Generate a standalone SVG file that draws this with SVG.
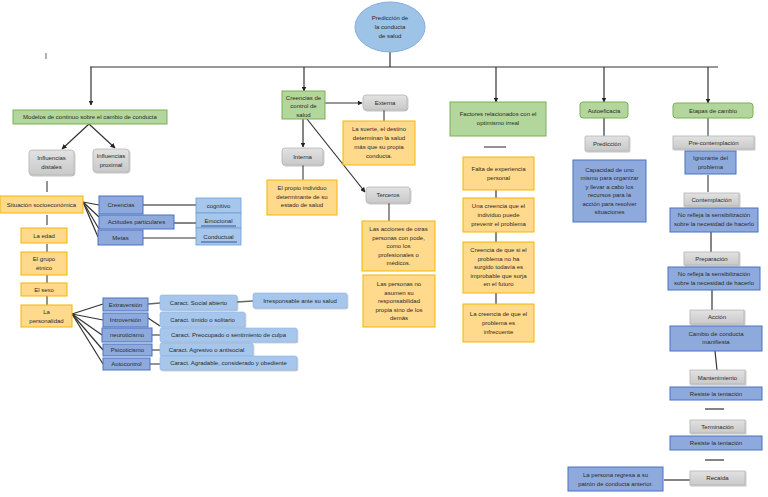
<svg xmlns="http://www.w3.org/2000/svg" width="768" height="497" viewBox="0 0 768 497">
<style>
text{font-family:"Liberation Sans",Arial,sans-serif;font-size:6px;fill:#2a2a2a;text-anchor:middle}
.g{fill:#b3d69c;stroke:#78b152;stroke-width:1}
.y{fill:#ffd98c;stroke:#f5b400;stroke-width:1}
.gr{fill:url(#gg);stroke:#b5b5b5;stroke-width:0.8;filter:url(#sh)}
.b{fill:#8eaadd;stroke:#4a70c2;stroke-width:1}
.lb{fill:#a7c6ec;stroke:#6c9fd8;stroke-width:0.8}
.lbs{fill:#a7c6ec;stroke:#8fb4e2;stroke-width:0.6;filter:url(#sh)}
.c{stroke:#333;stroke-width:1.2;fill:none}
.cg{stroke:#666;stroke-width:1.4;fill:none}
.a{stroke:#333;stroke-width:1.2;fill:none;marker-end:url(#ar)}
.ul{stroke:#2f5597;stroke-width:1}
</style>
<defs>
<linearGradient id="gg" x1="0" y1="0" x2="0" y2="1"><stop offset="0" stop-color="#e2e2e2"/><stop offset="1" stop-color="#c9c9c9"/></linearGradient>
<filter id="sh" x="-10%" y="-20%" width="130%" height="160%"><feDropShadow dx="0.8" dy="1" stdDeviation="0.6" flood-color="#000" flood-opacity="0.3"/></filter>
<marker id="ar" viewBox="0 0 10 10" refX="9" refY="5" markerWidth="5" markerHeight="5" markerUnits="userSpaceOnUse" orient="auto"><path d="M0,0L10,5L0,10z" fill="#222"/></marker>
</defs>

<g id="connectors">
<line class="cg" x1="46" y1="53" x2="46" y2="59" style="stroke-width:1"/>
<line class="c" x1="390" y1="52" x2="390" y2="67"/>
<line class="c" x1="90" y1="67" x2="718" y2="67"/>
<line class="a" x1="91" y1="67" x2="91" y2="105"/>
<line class="a" x1="304" y1="67" x2="304" y2="91"/>
<line class="a" x1="496" y1="67" x2="496" y2="102"/>
<line class="a" x1="604" y1="67" x2="604" y2="102"/>
<line class="a" x1="708" y1="67" x2="708" y2="103"/>
<line class="a" x1="89" y1="124" x2="62" y2="149"/>
<line class="a" x1="89" y1="124" x2="115" y2="148"/>
<line class="cg" x1="47" y1="181" x2="47" y2="192"/>
<line class="cg" x1="47" y1="215" x2="47" y2="225"/>
<line class="cg" x1="47" y1="244" x2="47" y2="252"/>
<line class="cg" x1="47" y1="275" x2="47" y2="283"/>
<line class="cg" x1="47" y1="296" x2="47" y2="305"/>
<line class="c" x1="83" y1="202" x2="99" y2="205"/>
<line class="c" x1="83" y1="202" x2="99" y2="217"/>
<line class="c" x1="83" y1="202" x2="99" y2="229"/>
<line class="c" x1="83" y1="202" x2="98" y2="237"/>
<line class="cg" x1="143" y1="205" x2="196" y2="205"/>
<line class="c" x1="174" y1="223" x2="196" y2="223"/>
<line class="c" x1="143" y1="238" x2="196" y2="238"/>
<line class="c" x1="72" y1="314" x2="103" y2="304"/>
<line class="c" x1="72" y1="314" x2="103" y2="320"/>
<line class="c" x1="72" y1="314" x2="102" y2="335"/>
<line class="c" x1="72" y1="314" x2="103" y2="350"/>
<line class="c" x1="72" y1="314" x2="103" y2="364"/>
<line class="cg" x1="148" y1="304" x2="160" y2="303"/>
<line class="c" x1="148" y1="318" x2="160" y2="326"/>
<line class="cg" x1="152" y1="335" x2="160" y2="335"/>
<line class="cg" x1="152" y1="350" x2="160" y2="350"/>
<line class="cg" x1="150" y1="364" x2="160" y2="364"/>
<line class="cg" x1="237" y1="302" x2="253" y2="301"/>
<line class="a" x1="325" y1="103" x2="362" y2="103"/>
<line class="cg" x1="384" y1="110" x2="384" y2="121"/>
<line class="a" x1="303" y1="119" x2="303" y2="147"/>
<line class="cg" x1="303" y1="165" x2="303" y2="180"/>
<line class="a" x1="307" y1="119" x2="365" y2="192"/>
<line class="cg" x1="389" y1="203" x2="389" y2="221"/>
<line class="cg" x1="484" y1="147" x2="506" y2="147" style="stroke:#777;stroke-width:1.6"/>
<line class="c" x1="496" y1="190" x2="496" y2="198"/>
<line class="c" x1="496" y1="232" x2="496" y2="242"/>
<line class="c" x1="496" y1="293" x2="496" y2="304"/>
<line class="c" x1="604" y1="118" x2="604" y2="136"/>
<line class="cg" x1="708" y1="118" x2="708" y2="136"/>
<line class="cg" x1="708" y1="175" x2="708" y2="192"/>
<line class="c" x1="711" y1="232" x2="711" y2="252"/>
<line class="c" x1="712" y1="290" x2="712" y2="310"/>
<line class="c" x1="715" y1="351" x2="717" y2="370"/>
<line class="c" x1="705" y1="409" x2="724" y2="409"/>
<line class="c" x1="705" y1="460" x2="724" y2="460"/>
<line class="c" x1="664" y1="480" x2="690" y2="480"/>
</g>

<g id="root"><ellipse cx="390" cy="27" rx="35" ry="25" fill="#9dc3e6" stroke="#86acd9"/><text x="390" y="20">Predicción de</text><text x="390" y="29">la conducta</text><text x="390" y="38">de salud</text></g>

<g id="modelos"><rect class="g" x="13" y="110" width="154" height="14"/><text x="90" y="119">Modelos de continuo sobre el cambio de conducta</text></g>
<g id="distales"><rect class="gr" x="29" y="150" width="45" height="25" rx="3"/><text x="51.5" y="160">Influencias</text><text x="51.5" y="169">distales</text></g>
<g id="proximal"><rect class="gr" x="93" y="149" width="36" height="23" rx="3"/><text x="111" y="158">Influencias</text><text x="111" y="167">proximal</text></g>
<g id="situacion"><rect class="y" x="0" y="196" width="83" height="17"/><text x="41.5" y="206.5">Situación socioeconómica</text></g>
<g id="edad"><rect class="y" x="21" y="228" width="46" height="15"/><text x="44" y="237.5">La edad</text></g>
<g id="etnico"><rect class="y" x="21" y="252" width="46" height="23"/><text x="44" y="261">El grupo</text><text x="44" y="270">étnico</text></g>
<g id="sexo"><rect class="y" x="21" y="283" width="46" height="13"/><text x="44" y="291.5">El sexo</text></g>
<g id="personalidad"><rect class="y" x="21" y="305" width="51" height="22"/><text x="46.5" y="314">La</text><text x="46.5" y="323">personalidad</text></g>

<g id="creencias"><rect class="b" x="99" y="196" width="44" height="18"/><text x="121" y="207">Creencias</text></g>
<g id="actitudes"><rect class="b" x="99" y="215" width="75" height="14"/><text x="136.5" y="224">Actitudes particulares</text></g>
<g id="metas"><rect class="b" x="98" y="230" width="45" height="15"/><text x="120.5" y="240">Metas</text></g>

<g id="cognitivo"><rect class="lb" x="196" y="198" width="45" height="15"/><text x="218.5" y="207.5">cognitivo</text></g>
<g id="emocional"><rect class="lb" x="196" y="213" width="45" height="15"/><text x="218.5" y="222.5">Emocional</text><line class="ul" x1="201" y1="226" x2="236" y2="226"/></g>
<g id="conductual"><rect class="lb" x="196" y="228" width="45" height="17"/><text x="218.5" y="238.5">Conductual</text><line class="ul" x1="201" y1="242" x2="237" y2="242"/></g>

<g id="extraversion"><rect class="b" x="103" y="298" width="45" height="13"/><text x="125.5" y="306.5">Extraversión</text></g>
<g id="introversion"><rect class="b" x="103" y="313" width="45" height="14"/><text x="125.5" y="322">Introversión</text></g>
<g id="neuroticismo"><rect class="b" x="102" y="328" width="50" height="14"/><text x="127" y="336.5">neuroticismo</text></g>
<g id="psicoticismo"><rect class="b" x="103" y="344" width="49" height="12"/><text x="127.5" y="352">Psicoticismo</text></g>
<g id="autocontrol"><rect class="b" x="103" y="358" width="47" height="12"/><text x="126.5" y="366">Autocontrol</text></g>

<g id="social"><rect class="lbs" x="160" y="295" width="77" height="15" rx="2"/><text x="198.5" y="304.5">Caract. Social abierto</text></g>
<g id="irresponsable"><rect class="lbs" x="253" y="293" width="94" height="15" rx="2"/><text x="300" y="302.5">Irresponsable ante su salud</text></g>
<g id="timido"><rect class="lbs" x="160" y="312" width="85" height="15" rx="2"/><text x="202.5" y="321.5">Caract. tímido o solitario</text></g>
<g id="preocupado"><rect class="lbs" x="160" y="328" width="137" height="14" rx="2"/><text x="228.5" y="337">Caract. Preocupado o sentimiento de culpa</text></g>
<g id="agresivo"><rect class="lbs" x="160" y="343" width="93" height="13" rx="2"/><text x="206.5" y="351.5">Caract. Agresivo o antisocial</text></g>
<g id="agradable"><rect class="lbs" x="160" y="356" width="137" height="14" rx="2"/><text x="228.5" y="365">Caract. Agradable, considerado y obediente</text></g>

<g id="control"><rect class="g" x="282" y="91" width="43" height="28"/><text x="303.5" y="99.5">Creencias de</text><text x="303.5" y="108">control de</text><text x="303.5" y="116.5">salud</text></g>
<g id="externa"><rect class="gr" x="363" y="95" width="44" height="15" rx="3"/><text x="385" y="104.5">Externa</text></g>
<g id="suerte"><rect class="y" x="343" y="121" width="72" height="44"/><text x="379" y="131">La suerte, el destino</text><text x="379" y="140">determinan la salud</text><text x="379" y="149">más que su propia</text><text x="379" y="158">conducta.</text></g>
<g id="interna"><rect class="gr" x="282" y="148" width="41" height="17" rx="3"/><text x="302.5" y="158.5">Interna</text></g>
<g id="propio"><rect class="y" x="267" y="180" width="70" height="35"/><text x="302" y="190">El propio individuo</text><text x="302" y="198.5">determinante de su</text><text x="302" y="207">estado de salud</text></g>
<g id="terceros"><rect class="gr" x="366" y="187" width="44" height="16" rx="3"/><text x="388" y="197">Terceros</text></g>
<g id="acciones"><rect class="y" x="362" y="221" width="73" height="50"/><text x="398.5" y="231">Las acciones de otras</text><text x="398.5" y="239.5">personas con pode,</text><text x="398.5" y="248">como los</text><text x="398.5" y="256.5">profesionales o</text><text x="398.5" y="265">médicos.</text></g>
<g id="asumen"><rect class="y" x="363" y="275" width="72" height="52"/><text x="399" y="286">Las personas no</text><text x="399" y="294.5">asumen su</text><text x="399" y="303">responsabilidad</text><text x="399" y="311.5">propia sino de los</text><text x="399" y="320">demás</text></g>

<g id="factores"><rect class="g" x="450" y="102" width="96" height="34"/><text x="498" y="116">Factores relacionados con el</text><text x="498" y="125">optimismo irreal</text></g>
<g id="falta"><rect class="y" x="463" y="157" width="71" height="33"/><text x="498.5" y="171">Falta de experiencia</text><text x="498.5" y="180">personal</text></g>
<g id="prevenir"><rect class="y" x="463" y="198" width="71" height="34"/><text x="498.5" y="208">Una creencia que el</text><text x="498.5" y="217">individuo puede</text><text x="498.5" y="226">prevenir el problema</text></g>
<g id="surgido"><rect class="y" x="463" y="242" width="71" height="51"/><text x="498.5" y="252">Creencia de que si el</text><text x="498.5" y="260.5">problema no ha</text><text x="498.5" y="269">surgido todavía es</text><text x="498.5" y="277.5">improbable que surja</text><text x="498.5" y="286">en el futuro</text></g>
<g id="infrecuente"><rect class="y" x="463" y="304" width="71" height="38"/><text x="498.5" y="316">La creencia de que el</text><text x="498.5" y="325">problema es</text><text x="498.5" y="334">infrecuente</text></g>

<g id="autoeficacia"><rect class="g" x="580" y="102" width="48" height="16" rx="3"/><text x="604" y="112.5">Autoeficacia</text></g>
<g id="prediccion"><rect class="gr" x="585" y="136" width="44" height="15" rx="1"/><text x="607" y="145.5">Predicción</text></g>
<g id="capacidad"><rect class="b" x="573" y="160" width="73" height="62"/><text x="609.5" y="171.5">Capacidad de uno</text><text x="609.5" y="180">mismo para organizar</text><text x="609.5" y="188.5">y llevar a cabo los</text><text x="609.5" y="197">recursos para la</text><text x="609.5" y="205.5">acción para resolver</text><text x="609.5" y="214">situaciones</text></g>

<g id="etapas"><rect class="g" x="673" y="103" width="80" height="15" rx="3"/><text x="713" y="112.5">Etapas de cambio</text></g>
<g id="precontemplacion"><rect class="gr" x="673" y="136" width="81" height="13"/><text x="713.5" y="144.5">Pre-contemplación</text></g>
<g id="ignorante"><rect class="b" x="685" y="151" width="51" height="23"/><text x="710.5" y="160">Ignorante del</text><text x="710.5" y="168.5">problema</text></g>
<g id="contemplacion"><rect class="gr" x="684" y="193" width="55" height="13"/><text x="711.5" y="201.5">Contemplación</text></g>
<g id="norefleja1"><rect class="b" x="670" y="208" width="88" height="24"/><text x="714" y="217">No refleja la sensibilización</text><text x="714" y="225.5">sobre la necesidad de hacerlo</text></g>
<g id="preparacion"><rect class="gr" x="684" y="252" width="55" height="13"/><text x="711.5" y="260.5">Preparación</text></g>
<g id="norefleja2"><rect class="b" x="668" y="267" width="92" height="23"/><text x="714" y="276">No refleja la sensibilización</text><text x="714" y="284.5">sobre la necesidad de hacerlo</text></g>
<g id="accion"><rect class="gr" x="690" y="310" width="54" height="14"/><text x="717" y="319">Acción</text></g>
<g id="cambio"><rect class="b" x="670" y="326" width="92" height="25"/><text x="716" y="335.5">Cambio de conducta</text><text x="716" y="344">manifiesta</text></g>
<g id="mantenimiento"><rect class="gr" x="690" y="370" width="55" height="14"/><text x="717.5" y="379.5">Mantenimiento</text></g>
<g id="resiste1"><rect class="b" x="670" y="387" width="92" height="13"/><text x="716" y="395.5">Resiste la tentación</text></g>
<g id="terminacion"><rect class="gr" x="690" y="420" width="55" height="13"/><text x="717.5" y="428.5">Terminación</text></g>
<g id="resiste2"><rect class="b" x="670" y="436" width="92" height="14"/><text x="716" y="445">Resiste la tentación</text></g>
<g id="recaida"><rect class="gr" x="690" y="471" width="55" height="14"/><text x="717.5" y="480">Recaída</text></g>
<g id="regresa"><rect class="b" x="568" y="467" width="95" height="24"/><text x="615.5" y="477">La persona regresa a su</text><text x="615.5" y="485.5">patrón de conducta anterior.</text></g>
</svg>
